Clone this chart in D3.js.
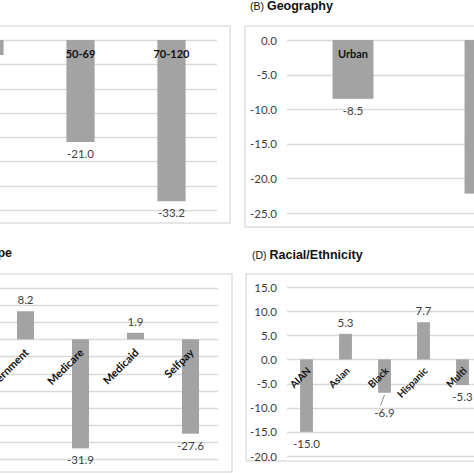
<!DOCTYPE html>
<html><head><meta charset="utf-8">
<script src="https://cdn.jsdelivr.net/npm/d3@7"></script>
<style>
html,body{margin:0;padding:0;background:#fff;overflow:hidden}
svg{display:block}
</style></head>
<body>
<svg id="chart" width="474" height="474"></svg>
<script>
// ---- data ----
const ageCats = ["18-49", "50-69", "70-120"];
const ageVals = [-3.1, -21.0, -33.2];
const ageTicks = [0, -5, -10, -15, -20, -25, -30, -35];

const geoCats = ["Urban", "Rural"];
const geoVals = [-8.5, -22.2];
const geoTicks = [0, -5, -10, -15, -20, -25];

const payerCats = ["Government", "Medicare", "Medicaid", "Selfpay"];
const payerVals = [8.2, -31.9, 1.9, -27.6];
const payerTicks = [15, 10, 5, 0, -5, -10, -15, -20, -25, -30, -35];

const raceCats = ["AIAN", "Asian", "Black", "Hispanic", "Multi"];
const raceVals = [-15.0, 5.3, -6.9, 7.7, -5.3];
const raceTicks = [15, 10, 5, 0, -5, -10, -15, -20];

const titles = ["(A) Age", "(B) Geography", "(C) Payer type", "(D) Racial/Ethnicity"];

// ---- drawing ----
const svg = d3.select("#chart");
const BAR = "#a3a3a3", GRID = "#d9d9d9", BORDER = "#d6d6d6", TXT = "#404040";
const NUMFONT = "Lato, 'Liberation Sans', sans-serif";
const TITLEFONT = "'Liberation Sans', Arial, sans-serif";
const fmt = d => (+d).toFixed(1);
const NUMSIZE = 11.5;

function panel(o) {
  const g = svg.append("g");
  g.append("rect").attr("x", o.box[0]).attr("y", o.box[1])
    .attr("width", o.box[2] - o.box[0]).attr("height", o.box[3] - o.box[1])
    .attr("fill", "none").attr("stroke", BORDER).attr("stroke-width", 1.2);

  const y = d3.scaleLinear().domain(o.ydom).range(o.yrange);
  const x = d3.scaleBand().domain(o.cats).range(o.xrange)
    .paddingInner(o.pad).paddingOuter(o.pad / 2);

  g.append("g").selectAll("line").data(o.ticks).join("line")
    .attr("x1", o.grid[0]).attr("x2", o.grid[1])
    .attr("y1", d => Math.round(y(d)) + 0.5).attr("y2", d => Math.round(y(d)) + 0.5)
    .attr("stroke", GRID).attr("stroke-width", 1.3);

  if (o.showTicks) {
    const ax = d3.axisLeft(y).tickValues(o.ticks).tickFormat(fmt).tickSize(0).tickPadding(0);
    const ag = g.append("g").attr("transform", `translate(${o.tickX},0)`).call(ax);
    ag.select(".domain").remove();
    ag.selectAll("text").attr("font-family", NUMFONT).attr("font-size", NUMSIZE)
      .attr("fill", TXT).attr("dy", "0.35em");
  }

  const data = o.cats.map((c, i) => ({c, v: o.vals[i]}));
  g.append("g").selectAll("rect").data(data).join("rect")
    .attr("x", d => x(d.c)).attr("width", x.bandwidth())
    .attr("y", d => y(Math.max(0, d.v)))
    .attr("height", d => Math.abs(y(d.v) - y(0)))
    .attr("fill", BAR);

  data.forEach(d => {
    const cx = x(d.c) + x.bandwidth() / 2;
    if (cx < -5 || cx > 479) return; // label lies outside the visible crop
    let ly = d.v >= 0 ? y(d.v) - 7 : y(d.v) + 16;
    const shift = (o.labelShift && o.labelShift[d.c]) || 0;
    if (shift) {
      g.append("line").attr("x1", cx).attr("y1", y(d.v) + 2)
        .attr("x2", cx - 4).attr("y2", y(d.v) + shift + 5)
        .attr("stroke", "#8c8c8c").attr("stroke-width", 1);
      ly += shift;
    }
    g.append("text").attr("x", cx).attr("y", ly).attr("text-anchor", "middle")
      .attr("font-family", NUMFONT).attr("font-size", NUMSIZE).attr("fill", TXT)
      .text(fmt(d.v));
  });

  data.forEach(d => {
    const cx = x(d.c) + x.bandwidth() / 2;
    if (o.rotate) {
      const ax = cx + o.rotOff[0], ay = y(0) + o.rotOff[1];
      g.append("text").attr("transform", `translate(${ax},${ay}) rotate(-45)`)
        .attr("text-anchor", "end").attr("font-family", NUMFONT).attr("font-weight", "bold")
        .attr("font-size", o.catSize).attr("fill", "#111").text(d.c);
    } else {
      if (cx < 0 || cx > 474) return; // label lies outside the visible crop
      g.append("text").attr("x", cx).attr("y", y(0) + 18).attr("text-anchor", "middle")
        .attr("font-family", NUMFONT).attr("font-weight", "bold")
        .attr("font-size", 11).attr("fill", "#111").text(d.c);
    }
  });

  if (o.title) {
    const m = o.title.match(/^(\(\w\))\s(.*)$/);
    const t = g.append("text").attr("x", o.titlePos[0]).attr("y", o.titlePos[1])
      .attr("text-anchor", o.titleAnchor || "start")
      .attr("font-family", TITLEFONT).attr("font-weight", "bold").attr("fill", "#111");
    t.append("tspan").attr("font-size", 10.5).attr("font-weight", "normal").text(m[1] + " ");
    t.append("tspan").attr("font-size", 12.5).text(m[2]);
  }
}

panel({ cats: ageCats, vals: ageVals, ticks: ageTicks, ydom: [-35, 0], yrange: [210, 40],
  xrange: [-56, 217], pad: 0.69, grid: [-60, 217], box: [-10, 26, 230, 223] });

panel({ cats: geoCats, vals: geoVals, ticks: geoTicks, ydom: [-25, 0], yrange: [213, 40],
  xrange: [287, 551], pad: 0.69, grid: [287, 480], box: [245, 26, 490, 227],
  showTicks: true, tickX: 277, title: titles[1], titlePos: [250, 10] });

panel({ cats: payerCats, vals: payerVals, ticks: payerTicks, ydom: [-35, 15], yrange: [459, 288],
  xrange: [-2, 218], pad: 0.69, grid: [-60, 218], box: [-10, 274, 232, 472],
  rotate: true, rotOff: [4, 14], catSize: 11, title: titles[2], titlePos: [12, 257], titleAnchor: "end" });

panel({ cats: raceCats, vals: raceVals, ticks: raceTicks, ydom: [-20, 15], yrange: [456, 287],
  xrange: [287, 482], pad: 0.67, grid: [287, 480], box: [246, 274, 490, 461],
  showTicks: true, tickX: 277, rotate: true, rotOff: [5, 12], catSize: 10,
  labelShift: { Black: 8 }, title: titles[3], titlePos: [252, 259] });
</script>
</body></html>
